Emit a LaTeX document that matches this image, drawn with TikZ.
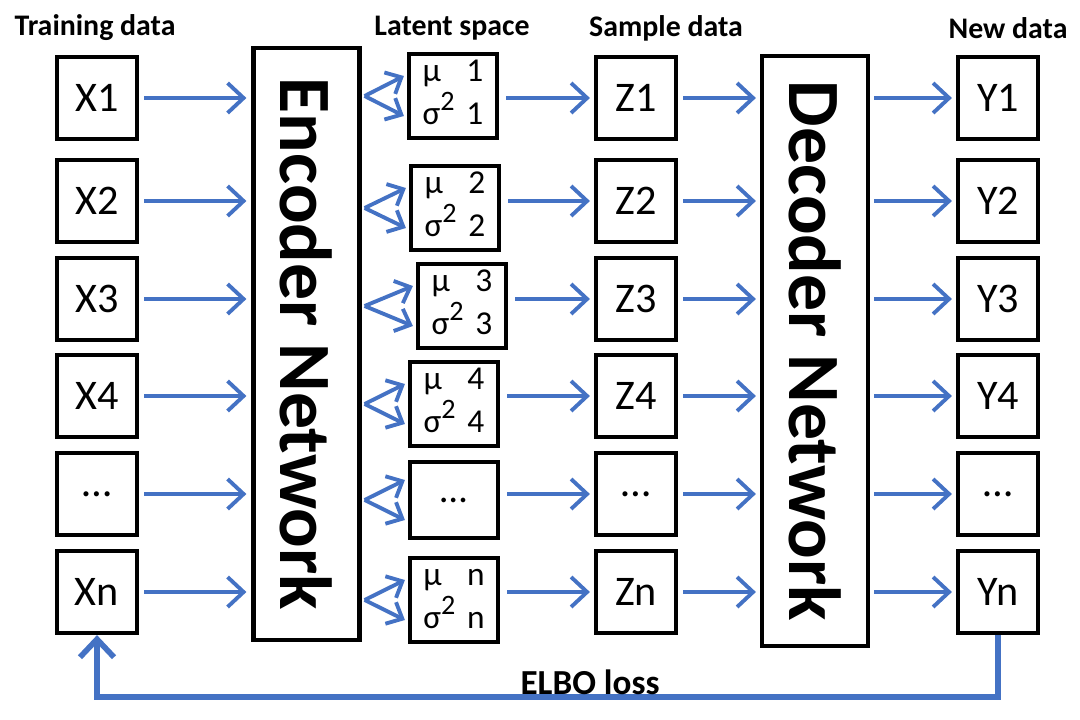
\documentclass[tikz,border=0pt]{standalone}
\usepackage{fontspec}
\setmainfont{Carlito}
\usetikzlibrary{arrows.meta}
\definecolor{arrblue}{RGB}{68,114,196}
\tikzset{
  box/.style={rectangle,draw=black,line width=1.2pt,minimum width=0.8cm,minimum height=0.82cm,font=\fontsize{12}{13}\selectfont},
  lat/.style={rectangle,draw=black,line width=1.2pt,minimum width=0.88cm,minimum height=0.76cm,inner sep=1pt,font=\fontsize{9.5}{10}\selectfont},
  net/.style={rectangle,draw=black,line width=1.2pt,minimum width=1.06cm},
  flow/.style={draw=arrblue,line width=1.1pt,-{Straight Barb[length=1.6mm,width=3mm]}},
  fan/.style={draw=arrblue,line width=1.1pt,-{Straight Barb[length=1.3mm,width=2.4mm]}},
  head/.style={font=\bfseries\fontsize{8.5}{10}\selectfont}
}
\begin{document}
\begin{tikzpicture}[x=1cm,y=1cm]
\useasboundingbox (0,0) rectangle (10.8,-7.19);
% headers
\node[head] (h1) at (0.95,-0.28) {Training data};
\node[head] (h2) at (4.52,-0.28) {Latent space};
\node[head] (h3) at (6.66,-0.28) {Sample data};
\node[head] (h4) at (10.08,-0.28) {New data};
% networks
\node[net,minimum height=5.92cm] (enc) at (3.065,-3.44) {};
\node[rotate=-90,font=\bfseries\fontsize{21}{22}\selectfont] (enct) at (enc) {Encoder Network};
\node[net,minimum height=5.9cm] (dec) at (8.15,-3.51) {};
\node[rotate=-90,font=\bfseries\fontsize{21}{22}\selectfont] (dect) at (dec) {Decoder Network};
% rows: name, y of X/Z/Y, y of latent, x of latent, label
\foreach \i/\yy/\ly/\lx/\t in {1/0.98/0.96/4.53/1, 2/2.01/2.08/4.55/2, 3/2.99/3.06/4.62/3, 4/3.96/4.04/4.54/4, 5/4.94/5.00/4.54/{\dots}, 6/5.92/6.00/4.54/n}{
  \ifnum\i=5
    \node[box] (x\i) at (0.97,-\yy) {\dots};
    \node[box] (z\i) at (6.36,-\yy) {\dots};
    \node[box] (y\i) at (9.98,-\yy) {\dots};
    \node[lat,font=\fontsize{11}{12}\selectfont] (l\i) at (\lx,-\ly) {\dots};
  \else
    \node[box] (x\i) at (0.97,-\yy) {X\t};
    \node[box] (z\i) at (6.36,-\yy) {Z\t};
    \node[box] (y\i) at (9.98,-\yy) {Y\t};
    \node[lat] (l\i) at (\lx,-\ly) {\begin{tabular}{@{}l@{\hspace{0.3em}}l@{}}µ&\t\\σ\textsuperscript{\fontsize{8}{8}\selectfont 2}&\t\end{tabular}};
  \fi
  \draw[flow] ([xshift=0.05cm]x\i.east) -- ([xshift=-0.05cm]enc.west |- x\i.east);
  \coordinate (e\i) at ([xshift=0.03cm]enc.east |- l\i.center);
  \draw[fan] (e\i) -- ([yshift=0.2cm,xshift=-0.03cm]l\i.west);
  \draw[fan] (e\i) -- ([yshift=-0.2cm,xshift=-0.03cm]l\i.west);
  \draw[flow] ([xshift=0.07cm]l\i.east |- z\i.west) -- ([xshift=-0.04cm]z\i.west);
  \draw[flow] ([xshift=0.05cm]z\i.east) -- ([xshift=-0.04cm]dec.west |- z\i.east);
  \draw[flow] ([xshift=0.04cm]dec.east |- y\i.west) -- ([xshift=-0.04cm]y\i.west);
}
% loss loop
\coordinate (br) at (9.98,-6.97);
\coordinate (bl) at (0.97,-6.97);
\draw[draw=arrblue,line width=1.6pt,-{Straight Barb[length=1.8mm,width=3.4mm]}] (y6.south) -- (br) -- (bl) -- (x6.south);
\node[font=\bfseries\fontsize{10}{12}\selectfont] (elbo) at (5.9,-6.82) {ELBO loss};
\end{tikzpicture}
\end{document}
